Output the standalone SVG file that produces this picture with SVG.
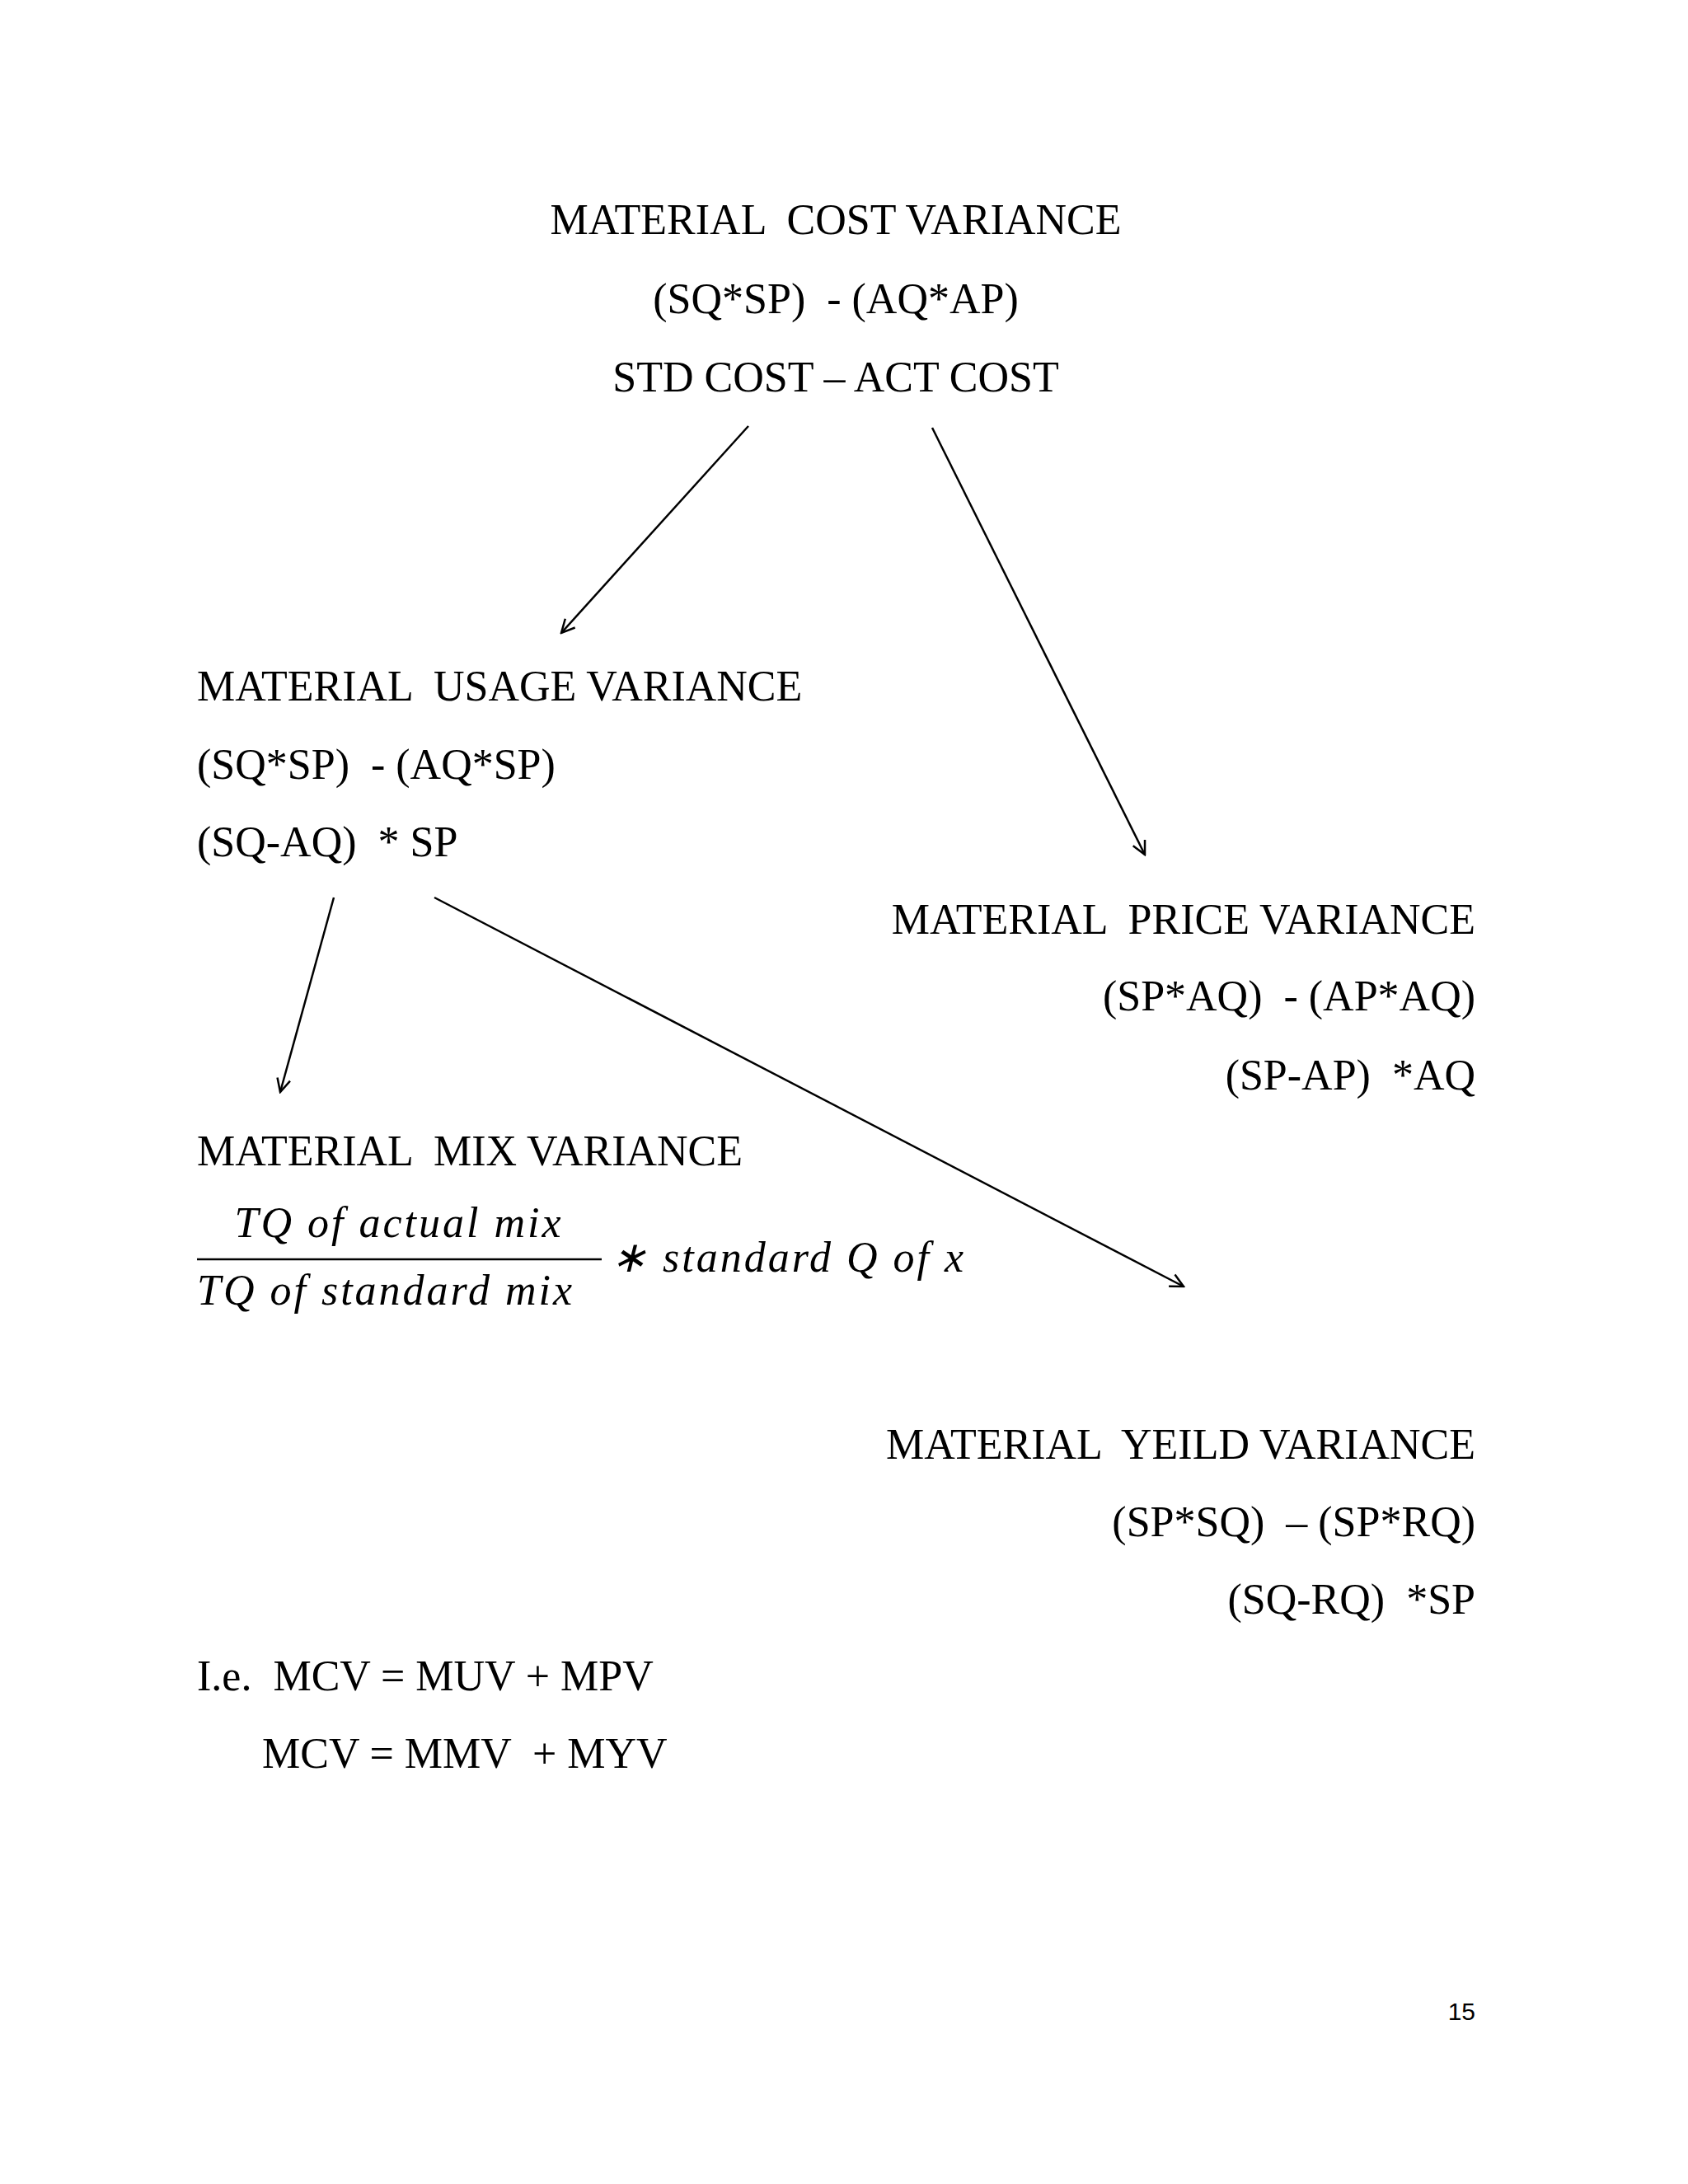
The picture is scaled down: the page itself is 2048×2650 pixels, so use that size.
<svg xmlns="http://www.w3.org/2000/svg" width="2048" height="2650" viewBox="0 0 2048 2650" xml:space="preserve">
<style>
text{font-family:"Liberation Serif","Times New Roman",serif;font-size:52px;fill:#000;white-space:pre}
.m{font-style:italic;letter-spacing:3px}
.r{text-anchor:end}
.c{text-anchor:middle}
.ln{stroke:#000;stroke-width:2.5;fill:none}
</style>
<defs><marker id="a" markerWidth="20" markerHeight="20" refX="18" refY="10" orient="auto" markerUnits="userSpaceOnUse"><polyline points="2,2 18,10 2,18" fill="none" stroke="#000" stroke-width="2.5"/></marker></defs>
<g id="mcv"><text class="c" x="1014" y="284">MATERIAL  COST VARIANCE</text><text class="c" x="1014" y="380">(SQ*SP)  - (AQ*AP)</text><text class="c" x="1014" y="475">STD COST – ACT COST</text></g>
<g id="muv"><text x="239" y="850">MATERIAL  USAGE VARIANCE</text><text x="239" y="945">(SQ*SP)  - (AQ*SP)</text><text x="239" y="1039">(SQ-AQ)  * SP</text></g>
<g id="mpv"><text class="r" x="1790" y="1133">MATERIAL  PRICE VARIANCE</text><text class="r" x="1790" y="1226">(SP*AQ)  - (AP*AQ)</text><text class="r" x="1790" y="1322">(SP-AP)  *AQ</text></g>
<g id="mmv"><text x="239" y="1414">MATERIAL  MIX VARIANCE</text><text class="m c" x="484" y="1501">TQ of actual mix</text><line x1="239" y1="1528" x2="730" y2="1528" stroke="#000" stroke-width="2.5"/><text class="m" x="239" y="1583">TQ of standard mix</text><text class="m" x="741" y="1543">∗ standard Q of x</text></g>
<g id="myv"><text class="r" x="1790" y="1770">MATERIAL  YEILD VARIANCE</text><text class="r" x="1790" y="1864">(SP*SQ)  – (SP*RQ)</text><text class="r" x="1790" y="1958">(SQ-RQ)  *SP</text></g>
<g id="summary"><text x="239" y="2051">I.e.  MCV = MUV + MPV</text><text x="318" y="2145">MCV = MMV  + MYV</text></g>
<text x="1790" y="2451" class="r" style="font-family:'Liberation Sans',sans-serif;font-size:30px">15</text>
<g id="connectors">
<line class="ln" x1="908" y1="517" x2="681" y2="768" marker-end="url(#a)"/>
<line class="ln" x1="1131" y1="519" x2="1389" y2="1037" marker-end="url(#a)"/>
<line class="ln" x1="405" y1="1089" x2="340" y2="1325" marker-end="url(#a)"/>
<line class="ln" x1="527" y1="1089" x2="1436" y2="1561" marker-end="url(#a)"/>
</g>
</svg>
